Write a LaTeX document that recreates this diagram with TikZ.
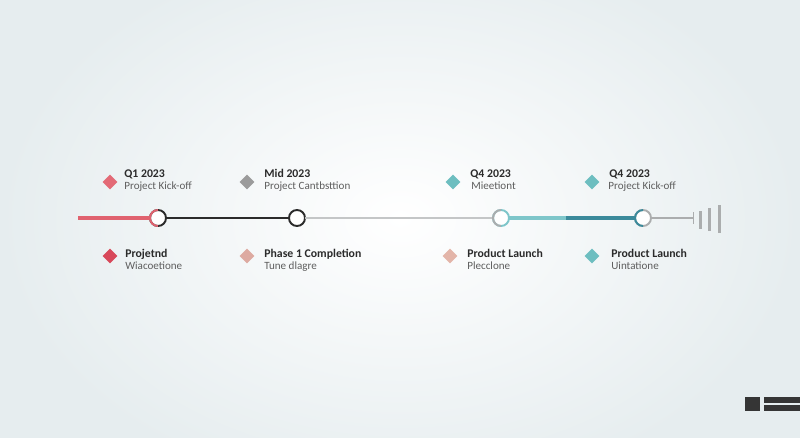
\documentclass[tikz,border=0pt]{standalone}
\usepackage{fontspec}
\setmainfont{Carlito}
\usetikzlibrary{shapes.geometric}
\definecolor{Bg}{HTML}{E6EDEF}
\definecolor{LineRed}{HTML}{E0626F}
\definecolor{LineDark}{HTML}{2B2B2B}
\definecolor{LineGrey}{HTML}{C4C6C7}
\definecolor{LineTealA}{HTML}{7EC6CA}
\definecolor{LineTealB}{HTML}{3B8A9B}
\definecolor{EndGrey}{HTML}{ABADAE}
\definecolor{D0}{HTML}{E36A76}
\definecolor{D1}{HTML}{9B9B9B}
\definecolor{D2}{HTML}{6DBEC0}
\definecolor{D3}{HTML}{D8485A}
\definecolor{D4}{HTML}{DDAAA1}
\definecolor{D5}{HTML}{E3B5A9}
\definecolor{SubGrey}{HTML}{5E5E5E}
\definecolor{Logo}{HTML}{353535}

\tikzset{
  gem/.style={diamond, inner sep=0pt, minimum width=0.3cm, minimum height=0.3cm, fill=#1},
  title/.style={anchor=base west, inner sep=0pt, font=\fontsize{6.7}{8}\selectfont\bfseries, text=LineDark},
  subtitle/.style={anchor=base west, inner sep=0pt, font=\fontsize{6.3}{7.5}\selectfont, text=SubGrey},
  mile/.style={circle, draw=#1, fill=white, line width=1.1pt, minimum size=0.32cm, inner sep=0pt, outer sep=0pt},
  bar/.style={draw=none, fill=EndGrey},
}

\begin{document}
\begin{tikzpicture}[x=0.02cm, y=0.02cm]%
\useasboundingbox (0,0) rectangle (800,437);%
\shade[inner color=white, outer color=Bg] (0,-60) rectangle (800,497);%
% milestones on the line
\node[mile=LineDark] (m1) at (158,219) {};%
\node[mile=LineDark] (m2) at (297,219) {};%
\node[mile=LineTealA] (m3) at (501,219) {};%
\node[mile=EndGrey] (m4) at (643,219) {};%
\coordinate (start) at (78,219);%
\coordinate (tealmid) at (566,219);%
\coordinate (stop) at (693,219);%
\draw[LineRed, line width=1.8pt] (start) -- (m1.west);%
\draw[LineDark, line width=1.2pt] (m1.east) -- (m2.west);%
\draw[LineGrey, line width=1.2pt] (m2.east) -- (m3.west);%
\draw[LineTealA, line width=1.8pt] (m3.east) -- (tealmid);%
\draw[LineTealB, line width=1.8pt] (tealmid) -- (m4.west);%
\draw[EndGrey, line width=0.9pt] (m4.east) -- (stop);%
% half rings
\draw[LineRed, line width=1.1pt] (m1.north) arc[start angle=90, end angle=270, radius=0.16cm];%
\draw[EndGrey, line width=1.1pt] (m3.north) arc[start angle=90, end angle=270, radius=0.16cm];%
\draw[LineTealB, line width=1.1pt] (m4.north) arc[start angle=90, end angle=270, radius=0.16cm];%
% end bars
\fill[bar] (692.5,213) rectangle (694,225);%
\fill[bar] (699,208) rectangle (702,226);%
\fill[bar] (708,206) rectangle (711,229);%
\fill[bar] (718,204) rectangle (721,232);%
% top labels
\node[gem=D0] (g1) at (110,255) {};%
\node[title] (t1) at (124,260) {Q1 2023};%
\node[subtitle] (s1) at (124,248) {Project Kick-off};%
\node[gem=D1] (g2) at (247,255) {};%
\node[title] (t2) at (264,260) {Mid 2023};%
\node[subtitle] (s2) at (264,248) {Project Cantbsttion};%
\node[gem=D2] (g3) at (453,255) {};%
\node[title] (t3) at (470,260) {Q4 2023};%
\node[subtitle] (s3) at (471,248) {Mieetiont};%
\node[gem=D2] (g4) at (592,255) {};%
\node[title] (t4) at (609,260) {Q4 2023};%
\node[subtitle] (s4) at (608,248) {Project Kick-off};%
% bottom labels
\node[gem=D3] (g5) at (110,181) {};%
\node[title] (t5) at (125,180) {Projetnd};%
\node[subtitle] (s5) at (125,168) {Wiacoetione};%
\node[gem=D4] (g6) at (247,181) {};%
\node[title] (t6) at (264,180) {Phase 1 Completion};%
\node[subtitle] (s6) at (264,168) {Tune dlagre};%
\node[gem=D5] (g7) at (450,181) {};%
\node[title] (t7) at (467,180) {Product Launch};%
\node[subtitle] (s7) at (467,168) {Plecclone};%
\node[gem=D2] (g8) at (592,181) {};%
\node[title] (t8) at (611,180) {Product Launch};%
\node[subtitle] (s8) at (611,168) {Uintatione};%
% corner mark
\fill[Logo] (745,26) rectangle (760,40);%
\fill[Logo] (764,34) rectangle (800,40);%
\fill[Logo] (764,26) rectangle (800,32);%
\end{tikzpicture}
\end{document}
